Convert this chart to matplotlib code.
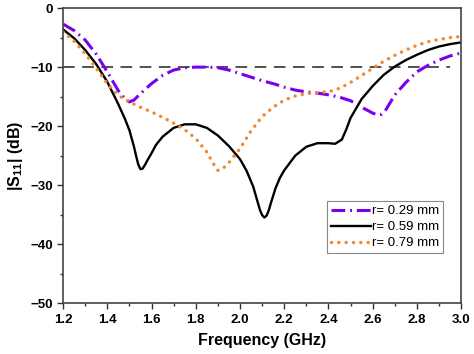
import numpy as np
import matplotlib.pyplot as plt

plt.rcParams.update({'font.family': 'Liberation Sans', 'font.size': 9.5,
                     'mathtext.fontset': 'custom',
                     'mathtext.bf': 'Liberation Sans:bold',
                     'mathtext.rm': 'Liberation Sans:bold',
                     'mathtext.default': 'bf'})

# r = 0.29 mm
freq_029 = [1.20, 1.25, 1.30, 1.35, 1.40, 1.45, 1.48, 1.50, 1.52, 1.55, 1.60,
            1.65, 1.70, 1.75, 1.80, 1.85, 1.90, 1.95, 2.00, 2.05, 2.10, 2.15,
            2.20, 2.25, 2.30, 2.35, 2.40, 2.45, 2.50, 2.55, 2.60, 2.62, 2.64,
            2.66, 2.70, 2.75, 2.80, 2.85, 2.90, 2.95, 3.00]
s11_029 = [-2.7, -3.8, -5.4, -7.8, -10.8, -14.0, -15.4, -15.9, -15.6, -14.5,
           -12.8, -11.4, -10.5, -10.1, -10.0, -10.0, -10.1, -10.5, -11.1, -11.7,
           -12.3, -12.8, -13.4, -13.9, -14.2, -14.4, -14.7, -15.1, -15.7, -16.8,
           -17.8, -18.1, -18.0, -17.2, -14.7, -12.6, -10.8, -9.7, -8.8, -8.1,
           -7.6]

# r = 0.59 mm
freq_059 = [1.20, 1.25, 1.30, 1.35, 1.40, 1.45, 1.48, 1.50, 1.52, 1.53, 1.54,
            1.55, 1.56, 1.57, 1.58, 1.60, 1.62, 1.65, 1.70, 1.75, 1.80, 1.85,
            1.90, 1.95, 2.00, 2.03, 2.06, 2.08, 2.09, 2.10, 2.11, 2.12, 2.13,
            2.14, 2.16, 2.18, 2.20, 2.25, 2.30, 2.35, 2.40, 2.43, 2.46, 2.48,
            2.50, 2.55, 2.60, 2.65, 2.70, 2.75, 2.80, 2.85, 2.90, 2.95, 3.00]
s11_059 = [-3.6, -5.1, -7.1, -9.5, -12.5, -16.3, -18.8, -20.7, -23.4, -25.0,
           -26.5, -27.3, -27.2, -26.6, -25.9, -24.6, -23.2, -21.8, -20.3, -19.7,
           -19.7, -20.3, -21.6, -23.4, -25.6, -27.6, -30.3, -32.9, -34.2, -35.1,
           -35.5, -35.2, -34.3, -33.0, -30.6, -28.8, -27.5, -25.0, -23.5, -22.9,
           -22.9, -23.0, -22.3, -20.6, -18.6, -15.4, -13.2, -11.3, -9.9, -8.8,
           -7.9, -7.1, -6.5, -6.1, -5.8]

# r = 0.79 mm
freq_079 = [1.20, 1.25, 1.30, 1.35, 1.40, 1.45, 1.50, 1.55, 1.60, 1.65, 1.70,
            1.75, 1.80, 1.85, 1.88, 1.90, 1.92, 1.95, 2.00, 2.05, 2.10, 2.15,
            2.20, 2.25, 2.30, 2.35, 2.40, 2.45, 2.50, 2.55, 2.60, 2.65, 2.70,
            2.75, 2.80, 2.85, 2.90, 2.95, 3.00]
s11_079 = [-4.0, -5.6, -7.7, -10.2, -12.8, -14.8, -15.9, -16.8, -17.6, -18.5,
           -19.5, -20.6, -22.1, -24.4, -26.4, -27.5, -27.3, -26.2, -23.8, -20.8,
           -18.4, -16.8, -15.6, -14.9, -14.5, -14.3, -14.2, -13.6, -12.6, -11.4,
           -10.2, -9.0, -8.0, -7.1, -6.3, -5.7, -5.3, -5.0, -4.8]

threshold = -10

fig = plt.figure(figsize=(4.74, 3.54), dpi=100)
ax = fig.add_axes([0.133, 0.144, 0.840, 0.833])

ax.plot([1.2, 2.95], [threshold, threshold], color='#333333', lw=1.2,
        linestyle=(0, (7, 4.5)))
ax.plot(freq_029, s11_029, color='#7b00ee', lw=2.2,
        linestyle=(0, (4.5, 1.6, 0.6, 1.6)), label='r= 0.29 mm')
ax.plot(freq_059, s11_059, color='black', lw=1.7, label='r= 0.59 mm')
ax.plot(freq_079, s11_079, color='#f08a2c', lw=2.5,
        linestyle=(0, (0.01, 2.1)), dash_capstyle='round', label='r= 0.79 mm')

ax.set_xlim(1.2, 3.0)
ax.set_ylim(-50, 0)
ax.set_xticks(np.arange(1.2, 3.01, 0.2))
ax.set_xticks(np.arange(1.3, 3.0, 0.2), minor=True)
ax.set_yticks(np.arange(-50, 1, 10))
ax.set_yticks(np.arange(-45, 0, 10), minor=True)
ax.set_xticklabels(['%.1f' % v for v in np.arange(1.2, 3.01, 0.2)])
ax.tick_params(which='both', direction='out', top=False, right=False,
               color='#333333')
ax.tick_params(axis='x', pad=4)
ax.tick_params(axis='y', pad=3)
ax.tick_params(which='major', length=4, width=1)
ax.tick_params(which='minor', length=2.5, width=1)
for lab in ax.get_xticklabels() + ax.get_yticklabels():
    lab.set_fontweight('bold')
for sp in ax.spines.values():
    sp.set_color('#444444')
    sp.set_linewidth(1.2)

ax.set_xlabel('Frequency (GHz)', fontsize=11.5, fontweight='bold', labelpad=5)
ax.set_ylabel(r'|S$_{11}$| (dB)', fontsize=11.5, fontweight='bold', labelpad=4)

leg = ax.legend(loc='upper left', bbox_to_anchor=(0.664, 0.345), fontsize=9.5,
                handlelength=3.0, handletextpad=0.1, borderpad=0.3,
                labelspacing=0.28, borderaxespad=0, fancybox=False,
                framealpha=1, edgecolor='#888888')
leg.get_frame().set_linewidth(0.8)

plt.savefig('out.png', dpi=100)
